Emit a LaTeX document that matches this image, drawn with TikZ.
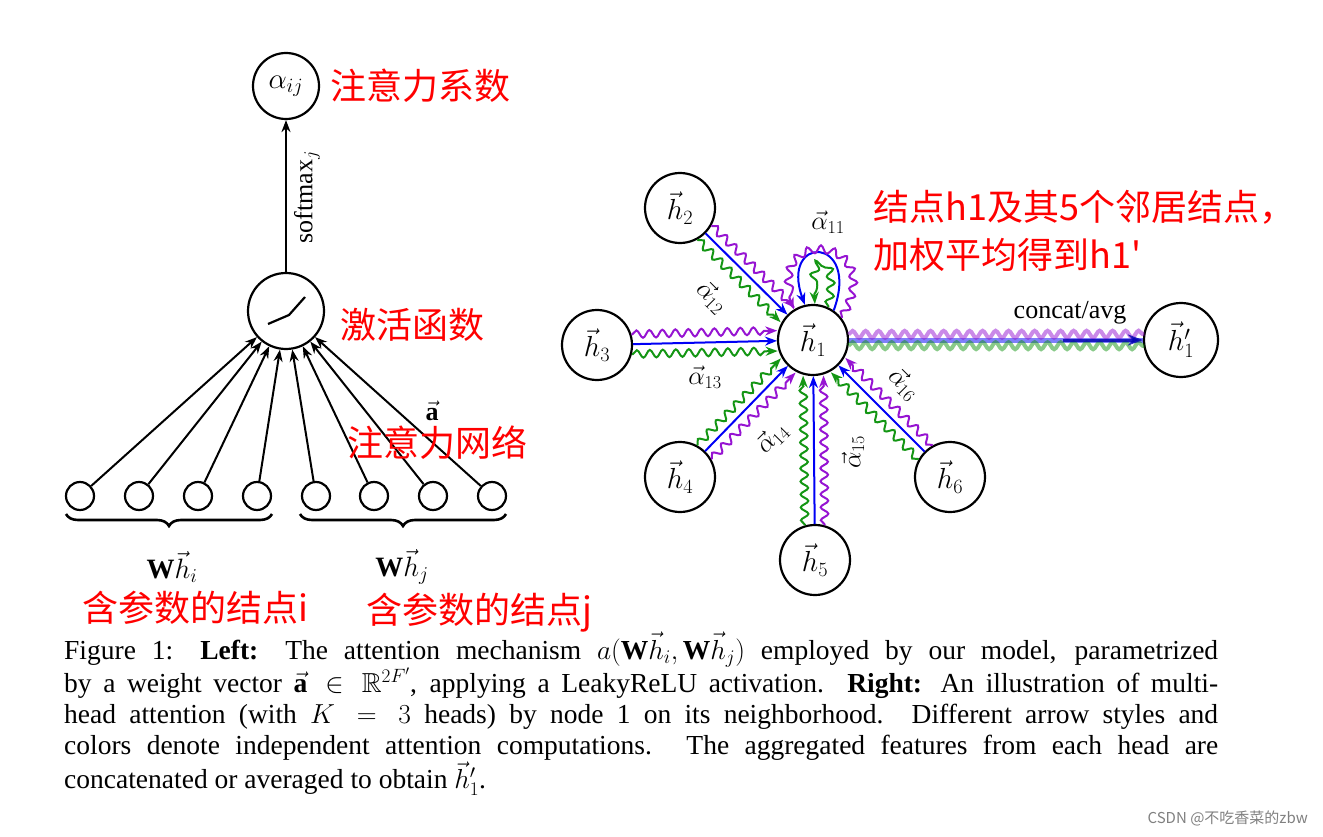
\RequirePackage{fix-cm}
\documentclass[tikz,border=0pt]{standalone}
\usepackage{fontspec}
\usepackage{amsmath,amssymb}
\setmainfont{Liberation Serif}
\newfontfamily\cjk{Noto Sans CJK SC}
\usetikzlibrary{decorations.pathmorphing,decorations.pathreplacing,calc,arrows.meta}
\definecolor{gg}{RGB}{20,150,20}
\definecolor{pp}{RGB}{150,20,210}
\definecolor{bb}{RGB}{0,0,245}
\tikzset{
  x=1pt,y=1pt,
  bignode/.style={circle,draw,line width=2.2pt,minimum size=70pt,inner sep=0pt,font=\fontsize{29}{32}\selectfont},
  small/.style={circle,draw,line width=2.2pt,minimum size=28pt,inner sep=0pt},
  arr/.style={-{Stealth[length=12pt,width=9pt]},line width=2pt},
  wig/.style={decorate,decoration={snake,amplitude=3.8pt,segment length=13pt,post length=8pt,pre length=1pt}},
  red/.style={text=red,font=\cjk\fontsize{36}{40}\selectfont,anchor=west,inner sep=0pt},
  lab/.style={font=\fontsize{26}{30}\selectfont,inner sep=0pt},
}
\begin{document}
\begin{tikzpicture}
\useasboundingbox (0,0) rectangle (1323,-837);
% ---------- left ----------
\node[bignode,minimum size=66pt] (aij) at (286,-86) {$\alpha_{ij}$};
\node[bignode,minimum size=76pt] (act) at (286,-311) {};
\draw[line width=2.2pt] (268,-324) -- (289,-315) -- (305,-297);
\draw[arr] (act) -- (aij);
\node[lab,rotate=90] (sm) at (307,-197) {softmax$_j$};
\foreach \i/\x in {1/80,2/139,3/198,4/257,5/316,6/374,7/433,8/492}{
  \node[small] (c\i) at (\x,-496) {};
  \draw[arr] (c\i) -- (act);
}
\draw[decorate,decoration={brace,mirror,amplitude=12pt},line width=2.6pt] (66,-514) -- (272,-514);
\draw[decorate,decoration={brace,mirror,amplitude=12pt},line width=2.6pt] (300,-514) -- (506,-514);
\node[lab,font=\fontsize{28}{34}\selectfont] (whi) at (172,-567) {$\mathbf{W}\vec{h}_i$};
\node[lab,font=\fontsize{28}{34}\selectfont] (whj) at (402,-567) {$\mathbf{W}\vec{h}_j$};
\node[lab] (avec) at (432,-411) {$\vec{\mathbf{a}}$};
\node[red] (t1) at (330,-86) {注意力系数};
\node[red] (t2) at (340,-325) {激活函数};
\node[red] (t3) at (347,-443) {注意力网络};
\node[red] (t4) at (82,-608) {含参数的结点i};
\node[red] (t5) at (366,-613) {含参数的结点j};
% ---------- right ----------
\node[bignode] (h1) at (813,-340) {$\vec{h}_1$};
\node[bignode] (h2) at (680,-208) {$\vec{h}_2$};
\node[bignode] (h3) at (597,-345) {$\vec{h}_3$};
\node[bignode] (h4) at (680,-477) {$\vec{h}_4$};
\node[bignode] (h5) at (815,-560) {$\vec{h}_5$};
\node[bignode] (h6) at (950,-477) {$\vec{h}_6$};
\node[bignode,minimum size=74pt] (h1p) at (1181,-340) {$\vec{h}'_1$};
\foreach \n/\s in {h2/1,h3/1,h4/-1,h5/-1,h6/-1}{
  \draw[arr,bb] ($(\n)!36pt!(h1)$) -- ($(h1)!36pt!(\n)$);
  \draw[arr,gg,wig] ($(\n)!36pt!-16*\s:(h1)$) -- ($(h1)!37pt!16*\s:(\n)$);
  \draw[arr,pp,wig] ($(\n)!36pt!16*\s:(h1)$) -- ($(h1)!37pt!-16*\s:(\n)$);
}
% self loops
\draw[arr,bb] (h1.55) .. controls +(70:80) and +(110:75) .. (h1.103);
\draw[arr,gg,wig] (h1.65) .. controls +(80:55) and +(95:50) .. (h1.87);
\draw[arr,pp,wig] (h1.38) .. controls +(60:95) and +(115:90) .. (h1.122);
% output
\draw[bb,line width=5pt,opacity=.5] (h1.east) -- (h1p.west);
\draw[pp,line width=4pt,opacity=.5,decorate,decoration={snake,amplitude=3.5pt,segment length=13pt}] ($(h1)!36pt!9:(h1p)$) -- ($(h1p)!37pt!-9:(h1)$);
\draw[gg,line width=4pt,opacity=.5,decorate,decoration={snake,amplitude=3.5pt,segment length=13pt}] ($(h1)!36pt!-9:(h1p)$) -- ($(h1p)!37pt!9:(h1)$);
\draw[-{Stealth[length=15pt,width=11pt]},line width=3pt,blue!70!black,opacity=.8] ($(h1p.west)+(-80,0)$) -- (h1p.west);
\node[lab] (cav) at (1070,-313) {concat/avg};
\node[lab] (a11) at (828,-222) {$\vec{\alpha}_{11}$};
\node[lab,rotate=-45] (a12) at (712,-297) {$\vec{\alpha}_{12}$};
\node[lab] (a13) at (705,-377) {$\vec{\alpha}_{13}$};
\node[lab,rotate=45] (a14) at (772,-438) {$\vec{\alpha}_{14}$};
\node[lab,rotate=90] (a15) at (853,-452) {$\vec{\alpha}_{15}$};
\node[lab,rotate=-45] (a16) at (904,-384) {$\vec{\alpha}_{16}$};
\node[red] (t6) at (873,-207) {结点h1及其5个邻居结点，};
\node[red] (t7) at (873,-255) {加权平均得到h1'};
% caption
\node[anchor=north west,inner sep=0pt,text width=1154pt,align=justify,font=\fontsize{27.5}{31}\selectfont] (cap) at (64,-632) {Figure 1: \textbf{Left:} The attention mechanism $a(\mathbf{W}\vec{h}_i,\mathbf{W}\vec{h}_j)$ employed by our model, parametrized\linebreak by a weight vector $\vec{\mathbf{a}}\in\mathbb{R}^{2F'}$, applying a LeakyReLU activation. \textbf{Right:} An illustration of multi-\linebreak head attention (with $K=3$ heads) by node 1 on its neighborhood. Different arrow styles and\linebreak colors denote independent attention computations. The aggregated features from each head are\linebreak concatenated or averaged to obtain $\vec{h}'_1$.};
\node[anchor=east,inner sep=0pt,text=gray,font=\cjk\fontsize{15}{18}\selectfont] (wm) at (1308,-818) {CSDN @不吃香菜的zbw};
\end{tikzpicture}
\end{document}
